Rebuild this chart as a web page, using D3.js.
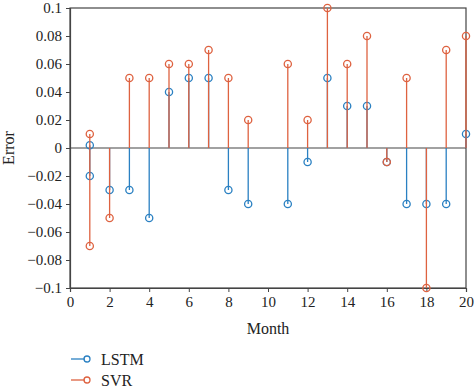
<!DOCTYPE html>
<html>

<head>
    <meta charset="utf-8">
    <title>Error stem</title>
    <script type="text/javascript" src="https://cdn.jsdelivr.net/npm/d3@7"></script>
    <style>
        body { margin: 0; background: #fff; }
        text { font-family: "Liberation Serif", "DejaVu Serif", serif; fill: #222; }
    </style>
</head>

<body>

    <script type="text/javascript">
    // data
    var lstmMonths = [1, 1, 2, 3, 4, 5, 6, 7, 8, 9, 11, 12, 13, 14, 15, 16, 17, 18, 19, 20];
    var lstmErrors = [0.002, -0.02, -0.03, -0.03, -0.05, 0.04, 0.05, 0.05, -0.03, -0.04, -0.04, -0.01, 0.05, 0.03, 0.03, -0.01, -0.04, -0.04, -0.04, 0.01];
    var svrMonths = [1, 1, 2, 3, 4, 5, 6, 7, 8, 9, 11, 12, 13, 14, 15, 16, 17, 18, 19, 20];
    var svrErrors = [0.01, -0.07, -0.05, 0.05, 0.05, 0.06, 0.06, 0.07, 0.05, 0.02, 0.06, 0.02, 0.1, 0.06, 0.08, -0.01, 0.05, -0.1, 0.07, 0.08];
    var xTicks = [0, 2, 4, 6, 8, 10, 12, 14, 16, 18, 20];
    var yTicks = [-0.1, -0.08, -0.06, -0.04, -0.02, 0, 0.02, 0.04, 0.06, 0.08, 0.1];
    var seriesNames = ['LSTM', 'SVR'];
    var seriesColors = ['#2a80c2', '#de6240'];

    var W = 474, H = 391;
    var padLeft = 70, padTop = 8, plotW = 396, plotH = 280;
    var axisColor = '#444';

    var svg = d3.select('body').append('svg')
        .attr('width', W)
        .attr('height', H);

    var x = d3.scaleLinear().domain([0, 20]).range([padLeft, padLeft + plotW]);
    var y = d3.scaleLinear().domain([-0.1, 0.1]).range([padTop + plotH, padTop]);

    // box (top and right)
    svg.append('rect')
        .attr('x', padLeft).attr('y', padTop)
        .attr('width', plotW).attr('height', plotH)
        .attr('fill', 'none')
        .attr('stroke', axisColor)
        .attr('stroke-width', 1.2);

    // baseline at zero
    svg.append('line')
        .attr('x1', x(0)).attr('x2', x(20))
        .attr('y1', y(0)).attr('y2', y(0))
        .attr('stroke', axisColor)
        .attr('stroke-width', 1.2);

    /* axes */
    var fmt = function(d) {
        if (Math.abs(d) < 1e-9) return '0';
        var s = String(+d.toFixed(2));
        return s.replace('-', '\u2212');
    };

    var xAxis = svg.append('g')
        .attr('transform', 'translate(0,' + (padTop + plotH) + ')')
        .call(d3.axisBottom(x).tickValues(xTicks).tickSize(4).tickPadding(4).tickFormat(d3.format('d')));
    var yAxis = svg.append('g')
        .attr('transform', 'translate(' + padLeft + ',0)')
        .call(d3.axisLeft(y).tickValues(yTicks).tickSize(4).tickPadding(4).tickFormat(fmt));

    [xAxis, yAxis].forEach(function(g) {
        g.select('.domain').attr('stroke', axisColor).attr('stroke-width', 1.2);
        g.selectAll('.tick line').attr('stroke', axisColor);
        g.selectAll('text')
            .attr('font-family', '"Liberation Serif", serif')
            .attr('font-size', '15px')
            .attr('fill', '#222');
    });

    /* stems */
    function drawStems(months, values, color) {
        var g = svg.append('g');
        var data = d3.zip(months, values);
        g.selectAll('line')
            .data(data)
            .enter()
            .append('line')
            .attr('x1', function(d) { return x(d[0]); })
            .attr('x2', function(d) { return x(d[0]); })
            .attr('y1', y(0))
            .attr('y2', function(d) { return y(d[1]); })
            .attr('stroke', color)
            .attr('stroke-width', 1.3);
        g.selectAll('circle')
            .data(data)
            .enter()
            .append('circle')
            .attr('cx', function(d) { return x(d[0]); })
            .attr('cy', function(d) { return y(d[1]); })
            .attr('r', 3.6)
            .attr('fill', 'none')
            .attr('stroke', color)
            .attr('stroke-width', 1.3);
    }

    drawStems(lstmMonths, lstmErrors, seriesColors[0]);
    drawStems(svrMonths, svrErrors, seriesColors[1]);

    /* labels */
    svg.append('text')
        .attr('x', padLeft + plotW / 2)
        .attr('y', 334)
        .attr('text-anchor', 'middle')
        .attr('font-size', '16px')
        .text('Month');

    svg.append('text')
        .attr('transform', 'translate(14,' + (padTop + plotH / 2) + ') rotate(-90)')
        .attr('text-anchor', 'middle')
        .attr('font-size', '16px')
        .text('Error');

    /* legend */
    var legend = svg.selectAll('.legend')
        .data(seriesNames)
        .enter()
        .append('g')
        .attr('class', 'legend')
        .attr('transform', function(d, i) { return 'translate(71,' + (359 + i * 21) + ')'; });
    legend.append('line')
        .attr('x1', 0).attr('x2', 14)
        .attr('y1', 0).attr('y2', 0)
        .attr('stroke', function(d, i) { return seriesColors[i]; })
        .attr('stroke-width', 1.3);
    legend.append('circle')
        .attr('cx', 16).attr('cy', 0).attr('r', 3)
        .attr('fill', 'none')
        .attr('stroke', function(d, i) { return seriesColors[i]; })
        .attr('stroke-width', 1.3);
    legend.append('text')
        .attr('x', 30)
        .attr('y', 5.5)
        .attr('font-size', '16px')
        .text(function(d) { return d; });
    </script>
</body>

</html>
